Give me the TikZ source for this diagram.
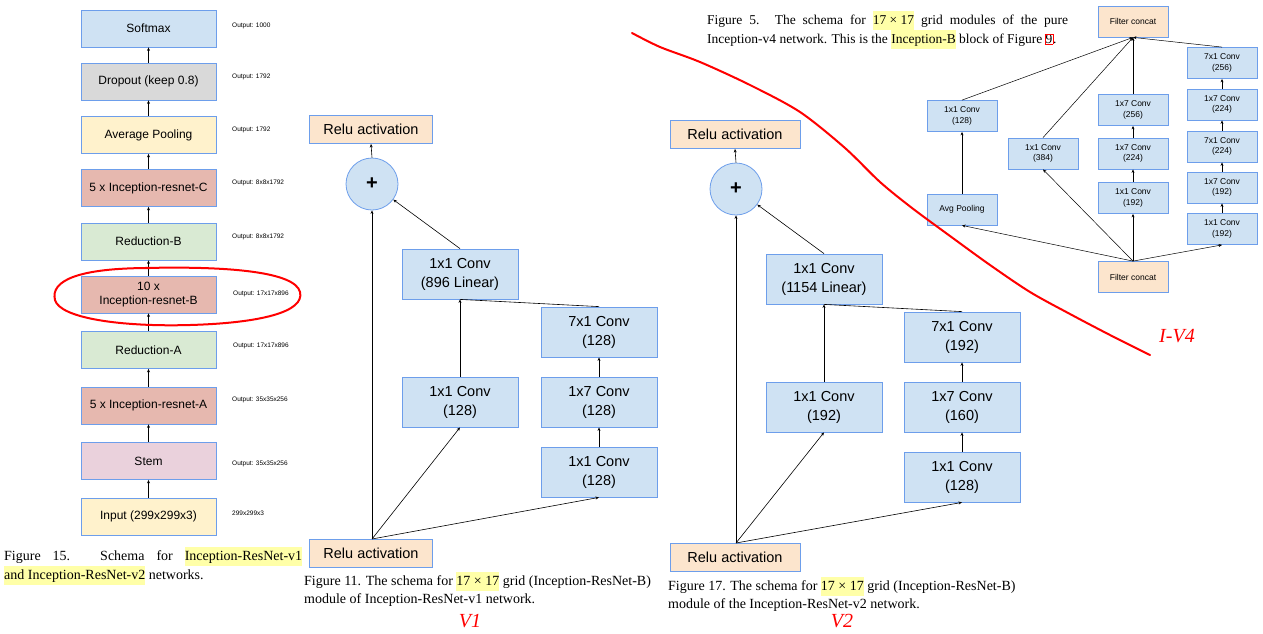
\documentclass[tikz,border=0pt]{standalone}
\usepackage{fontspec}
\setmainfont{Liberation Serif}
\newfontfamily\arial{Liberation Sans}
\usetikzlibrary{arrows.meta}
\definecolor{bfill}{HTML}{CFE2F3}
\definecolor{bdraw}{HTML}{6D9EEB}
\definecolor{gfill}{HTML}{D9D9D9}
\definecolor{yfill}{HTML}{FFF2CC}
\definecolor{rfill}{HTML}{E6B8AF}
\definecolor{grfill}{HTML}{D9EAD3}
\definecolor{pfill}{HTML}{EAD1DC}
\definecolor{ofill}{HTML}{FCE5CD}
\definecolor{hl}{HTML}{FFFFA8}
\newcommand{\hlt}[1]{{\setlength{\fboxsep}{0pt}\colorbox{hl}{\strut #1}}}
\begin{document}
\begin{tikzpicture}[x=1pt,y=-1pt,
  box/.style={draw=bdraw,fill=bfill,line width=0.8pt,inner sep=0pt,align=center,font=\arial},
  lbox/.style={box,minimum width=135pt,minimum height=37pt,font=\arial\fontsize{12}{14}\selectfont},
  mbox/.style={box,minimum width=116pt,minimum height=50pt,font=\arial\fontsize{14.5}{19}\selectfont},
  sbox/.style={box,minimum width=70pt,minimum height=31pt,font=\arial\fontsize{8.5}{10.5}\selectfont},
  rbox/.style={box,fill=ofill,minimum width=123pt,minimum height=28pt,font=\arial\fontsize{14.5}{17}\selectfont},
  outl/.style={anchor=west,font=\arial\fontsize{6.5}{7}\selectfont,inner sep=0pt},
  arr/.style={-{Stealth[length=3.5pt,width=3pt]},line width=0.6pt},
  captxt/.style={anchor=north west,inner sep=0pt,font=\fontsize{14}{19}\selectfont},
  redline/.style={draw=red,line width=2pt,line cap=round,line join=round}]
\useasboundingbox (0,0) rectangle (1263,633);
% ---------- left column ----------
\node[lbox] (soft) at (148.5,28.5) {Softmax};
\node[lbox,fill=gfill] (drop) at (148.5,81.5) {Dropout (keep 0.8)};
\node[lbox,fill=yfill] (avg) at (148.5,135) {Average Pooling};
\node[lbox,fill=rfill] (irc) at (148.5,188) {5 x Inception-resnet-C};
\node[lbox,fill=grfill] (redb) at (148.5,241.5) {Reduction-B};
\node[lbox,fill=rfill] (irb) at (148.5,294.5) {10 x\\Inception-resnet-B};
\node[lbox,fill=grfill] (reda) at (148.5,350) {Reduction-A};
\node[lbox,fill=rfill] (ira) at (148.5,405.5) {5 x Inception-resnet-A};
\node[lbox,fill=pfill] (stem) at (148.5,461) {Stem};
\node[lbox,fill=yfill] (inp) at (148.5,516.5) {Input (299x299x3)};
\foreach \a/\b in {inp/stem,stem/ira,ira/reda,reda/irb,irb/redb,redb/irc,irc/avg,avg/drop,drop/soft}
  \draw[arr] (\a.north) -- (\b.south);
\node[outl] (o1) at (232,26) {Output: 1000};
\node[outl] (o2) at (232,77) {Output: 1792};
\node[outl] (o3) at (232,130) {Output: 1792};
\node[outl] (o4) at (232,183) {Output: 8x8x1792};
\node[outl] (o5) at (232,237) {Output: 8x8x1792};
\node[outl] (o6) at (233,294) {Output: 17x17x896};
\node[outl] (o7) at (233,346) {Output: 17x17x896};
\node[outl] (o8) at (232,400) {Output: 35x35x256};
\node[outl] (o9) at (232,464) {Output: 35x35x256};
\node[outl] (o10) at (232,513) {299x299x3};
\node[captxt,text width=298pt,align=justify] (c15) at (4,547) {Figure 15. Schema for \hlt{Inception-ResNet-v1} \hlt{and Inception-ResNet-v2} networks.};
% ---------- Fig 11 ----------
\node[rbox] (rt1) at (371,129.5) {Relu activation};
\node[box,circle,minimum size=52pt,font=\arial\bfseries\fontsize{20}{20}\selectfont] (pl1) at (372,184) {+};
\node[mbox] (lin1) at (460,274) {1x1 Conv\\(896 Linear)};
\node[mbox] (a71) at (599,332) {7x1 Conv\\(128)};
\node[mbox] (b11) at (460,402) {1x1 Conv\\(128)};
\node[mbox] (a17) at (599,402) {1x7 Conv\\(128)};
\node[mbox] (a11) at (599,472) {1x1 Conv\\(128)};
\node[rbox] (rb1) at (371,553) {Relu activation};
\coordinate (s1) at (372,539);
\draw[arr] (s1) -- (pl1.south);
\draw[arr] (s1) -- (b11.south);
\draw[arr] (s1) -- (a11.south);
\draw[arr] (a11.north) -- (a17.south);
\draw[arr] (a17.north) -- (a71.south);
\draw[arr] (b11.north) -- (lin1.south);
\draw[line width=0.6pt] (a71.north) -- (lin1.south);
\draw[arr] (lin1.north) -- (pl1);
\draw[arr] (pl1.north) -- (rt1.south);
\node[captxt] (c11) at (304,572) {\parbox{370pt}{\baselineskip=18pt Figure 11. The schema for \hlt{17 × 17} grid (Inception-ResNet-B)\\module of Inception-ResNet-v1 network.}};
% ---------- Fig 17 ----------
\node[rbox,minimum width=130pt] (rt2) at (735,134.5) {Relu activation};
\node[box,circle,minimum size=52pt,font=\arial\bfseries\fontsize{20}{20}\selectfont] (pl2) at (736,189) {+};
\node[mbox] (lin2) at (824,279) {1x1 Conv\\(1154 Linear)};
\node[mbox] (d71) at (962,337) {7x1 Conv\\(192)};
\node[mbox] (e11) at (824,407) {1x1 Conv\\(192)};
\node[mbox] (d17) at (962,407) {1x7 Conv\\(160)};
\node[mbox] (d11) at (962,477) {1x1 Conv\\(128)};
\node[rbox,minimum width=130pt] (rb2) at (735,557) {Relu activation};
\coordinate (s2) at (736,543);
\draw[arr] (s2) -- (pl2.south);
\draw[arr] (s2) -- (e11.south);
\draw[arr] (s2) -- (d11.south);
\draw[arr] (d11.north) -- (d17.south);
\draw[arr] (d17.north) -- (d71.south);
\draw[arr] (e11.north) -- (lin2.south);
\draw[line width=0.6pt] (d71.north) -- (lin2.south);
\draw[arr] (lin2.north) -- (pl2);
\draw[arr] (pl2.north) -- (rt2.south);
\node[captxt] (c17) at (668,577) {\parbox{370pt}{\baselineskip=18pt Figure 17. The schema for \hlt{17 × 17} grid (Inception-ResNet-B)\\module of the Inception-ResNet-v2 network.}};
% ---------- Fig 5 ----------
\node[captxt,text width=361pt,align=justify,font=\fontsize{13.5}{19}\selectfont] (c5) at (707,11) {Figure 5. The schema for \hlt{17 × 17} grid modules of the pure\linebreak Inception-v4 network. This is the \hlt{Inception-B} block of Figure\,{\setlength{\fboxsep}{0.5pt}\fcolorbox{red}{white}{9}}.};
\node[sbox,fill=ofill] (fct) at (1133,21.5) {Filter concat};
\node[sbox] (r1) at (1222,63) {7x1 Conv\\(256)};
\node[sbox] (r2) at (1222,104.5) {1x7 Conv\\(224)};
\node[sbox] (r3) at (1222,146.5) {7x1 Conv\\(224)};
\node[sbox] (r4) at (1222,187.5) {1x7 Conv\\(192)};
\node[sbox] (r5) at (1222,229) {1x1 Conv\\(192)};
\node[sbox] (m1) at (1133,110) {1x7 Conv\\(256)};
\node[sbox] (m2) at (1133,153.5) {1x7 Conv\\(224)};
\node[sbox] (m3) at (1133,198) {1x1 Conv\\(192)};
\node[sbox] (k1) at (1043,153.5) {1x1 Conv\\(384)};
\node[sbox] (p1) at (962,116) {1x1 Conv\\(128)};
\node[sbox] (ap) at (962,209.5) {Avg Pooling};
\node[sbox,fill=ofill] (fcb) at (1133,277) {Filter concat};
\foreach \b in {ap,k1,m3,r5} \draw[arr,line width=0.5pt] (fcb.north) -- (\b.south);
\draw[arr,line width=0.5pt] (m3.north) -- (m2.south);
\draw[arr,line width=0.5pt] (m2.north) -- (m1.south);
\draw[arr,line width=0.5pt] (ap.north) -- (p1.south);
\draw[arr,line width=0.5pt] (r5.north) -- (r4.south);
\draw[arr,line width=0.5pt] (r4.north) -- (r3.south);
\draw[arr,line width=0.5pt] (r3.north) -- (r2.south);
\draw[arr,line width=0.5pt] (r2.north) -- (r1.south);
\foreach \b in {p1,k1,m1,r1} \draw[arr,line width=0.5pt] (\b.north) -- (fct.south);
% ---------- red annotations ----------
\draw[redline] (150,268) .. controls (80,268) and (50,280) .. (55,300) .. controls (60,318) and (120,327) .. (190,325) .. controls (260,323) and (305,312) .. (300,292) .. controls (295,272) and (230,266) .. (145,268);
\draw[redline] plot[smooth] coordinates {(632,33) (660,47) (700,62) (750,85) (800,112) (845,148) (880,182) (912,208) (950,236) (990,265) (1030,292) (1070,314) (1110,335) (1150,355)};
\node[text=red,font=\fontsize{20}{20}\selectfont\itshape,inner sep=0pt] (iv4) at (1177,336) {I-V4};
\node[text=red,font=\fontsize{20}{20}\selectfont\itshape,inner sep=0pt] (v1) at (470,621) {V1};
\node[text=red,font=\fontsize{20}{20}\selectfont\itshape,inner sep=0pt] (v2) at (842,621) {V2};
\end{tikzpicture}
\end{document}
